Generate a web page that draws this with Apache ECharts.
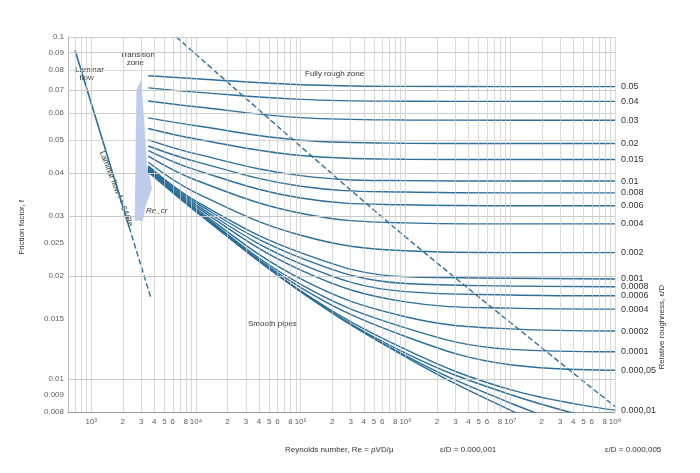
<!DOCTYPE html>
<html><head><meta charset="utf-8">
<script src="https://cdn.jsdelivr.net/npm/echarts@6/dist/echarts.min.js"></script>
<style>html,body{margin:0;padding:0;background:#fff}#c{width:700px;height:473px}</style>
</head><body><div id="c"></div>
<script>
const reValues = [3500, 1e4, 1e5, 1e6, 1e7, 1e8];
const roughLabels = ['0.05','0.04','0.03','0.02','0.015','0.01','0.008','0.006','0.004','0.002','0.001','0.0008','0.0006','0.0004','0.0002','0.0001','0.000,05','0.000,01','','',''];
const f_0050 = [0.077,0.0755,0.0725,0.0717,0.0716,0.0716];
const f_0040 = [0.071,0.0690,0.0657,0.0649,0.0648,0.0648];
const f_0030 = [0.065,0.0625,0.0581,0.0572,0.0571,0.0571];
const f_0020 = [0.058,0.0550,0.0499,0.0489,0.0488,0.0488];
const f_0015 = [0.054,0.0503,0.0450,0.0439,0.0438,0.0438];
const f_0010 = [0.050,0.0455,0.0393,0.0380,0.0379,0.0379];
const f_0008 = [0.048,0.0432,0.0366,0.0352,0.0350,0.0350];
const f_0006 = [0.0465,0.0408,0.0338,0.0323,0.0321,0.0321];
const f_0004 = [0.0448,0.0381,0.0305,0.0286,0.0284,0.0284];
const f_0002 = [0.0430,0.0350,0.0263,0.0237,0.0234,0.0234];
const f_00010 = [0.0420,0.0331,0.0234,0.0199,0.0197,0.0196];
const f_00008 = [0.0418,0.0327,0.0226,0.0190,0.0187,0.0186];
const f_00006 = [0.0416,0.0323,0.0217,0.0180,0.0176,0.0175];
const f_00004 = [0.0414,0.0319,0.0208,0.0168,0.0161,0.0160];
const f_00002 = [0.0412,0.0315,0.0196,0.0152,0.0140,0.0138];
const f_00001 = [0.0410,0.0312,0.0189,0.0141,0.0122,0.0120];
const f_000005 = [0.0408,0.0311,0.0185,0.0133,0.0110,0.0106];
const f_000001 = [0.0406,0.0310,0.0181,0.0122,0.0093,0.0081];
const f_0000005 = [0.0405,0.0309,0.0180,0.0119,0.0090,0.0074];
const f_0000001 = [0.0404,0.0309,0.0180,0.0117,0.0085,0.0066];
const f_smooth = [0.0403,0.0309,0.0180,0.0116,0.0081,0.0060];
const curves = [f_0050,f_0040,f_0030,f_0020,f_0015,f_0010,f_0008,f_0006,f_0004,f_0002,f_00010,f_00008,f_00006,f_00004,f_00002,f_00001,f_000005,f_000001,f_0000005,f_0000001,f_smooth];
const laminarRe = [700, 2300]; const laminarF = [0.0914, 0.0278];
const laminarDashRe = [2300, 3700]; const laminarDashF = [0.0278, 0.0173];
const roughBoundRe = [6500, 8.3e5, 1e8]; const roughBoundF = [0.1, 0.0273, 0.0083];
const transitionPoly = [[2600,0.029],[2700,0.07],[3000,0.075],[3300,0.05],[3400,0.042],[3600,0.040],[3800,0.036],[3300,0.032],[3100,0.029]];
const xMinor = [];
[100,1000,1e4,1e5,1e6,1e7].forEach(d=>{for(let k=1;k<10;k++){const v=d*k; if(v>=600&&v<=1e8) xMinor.push(v);} }); xMinor.push(1e8);
const yGrid = [0.008,0.009,0.01,0.011,0.012,0.013,0.014,0.015,0.016,0.017,0.018,0.019,0.02,0.022,0.024,0.025,0.026,0.028,0.03,0.032,0.034,0.036,0.038,0.04,0.045,0.05,0.055,0.06,0.065,0.07,0.075,0.08,0.085,0.09,0.095,0.1];
const xTickVals = [1e3,2e3,3e3,4e3,5e3,6e3,8e3,1e4,2e4,3e4,4e4,5e4,6e4,8e4,1e5,2e5,3e5,4e5,5e5,6e5,8e5,1e6,2e6,3e6,4e6,5e6,6e6,8e6,1e7,2e7,3e7,4e7,5e7,6e7,8e7,1e8];
const xTickText = ['10³','2','3','4','5','6','8','10⁴','2','3','4','5','6','8','10⁵','2','3','4','5','6','8','10⁶','2','3','4','5','6','8','10⁷','2','3','4','5','6','8','10⁸'];
const yTickVals = [0.1,0.09,0.08,0.07,0.06,0.05,0.04,0.03,0.025,0.02,0.015,0.01,0.009,0.008];
const yTickText = ['0.1','0.09','0.08','0.07','0.06','0.05','0.04','0.03','0.025','0.02','0.015','0.01','0.009','0.008'];

const blue = '#2c6f99';
const series = [];
series.push({type:'line',data:[],silent:true,markLine:{symbol:'none',silent:true,label:{show:false},lineStyle:{color:'#c8c8c8',width:0.7,type:'solid'},
  data:xMinor.map(v=>({xAxis:v})).concat(yGrid.map(v=>({yAxis:v})))}});
curves.forEach((c,i)=>{
  series.push({type:'line',smooth:0.4,showSymbol:false,clip:true,data:reValues.map((r,j)=>[r,c[j]]),
    lineStyle:{color:blue,width:1.4},
    endLabel:{show:!!roughLabels[i],formatter:roughLabels[i],color:'#333',fontSize:9,distance:6}});
});
series.push({type:'line',showSymbol:false,data:laminarRe.map((r,j)=>[r,laminarF[j]]),lineStyle:{color:blue,width:1.6}});
series.push({type:'line',showSymbol:false,data:laminarDashRe.map((r,j)=>[r,laminarDashF[j]]),lineStyle:{color:blue,width:1.4,type:'dashed'}});
series.push({type:'line',smooth:0.3,showSymbol:false,data:roughBoundRe.map((r,j)=>[r,roughBoundF[j]]),lineStyle:{color:blue,width:1.4,type:'dashed'}});
series.push({type:'custom',data:[0],z:1,renderItem:(p,api)=>({type:'polygon',shape:{points:transitionPoly.map(q=>api.coord(q))},style:{fill:'rgba(150,170,225,0.6)'}})});
series.push({type:'scatter',symbolSize:0,clip:false,data:xTickVals.map((v,i)=>({value:[v,0.008],label:{formatter:xTickText[i]}})),
  label:{show:true,position:'bottom',distance:6,fontSize:8,color:'#333'}});
series.push({type:'scatter',symbolSize:0,clip:false,data:yTickVals.map((v,i)=>({value:[600,v],label:{formatter:yTickText[i]}})),
  label:{show:true,position:'left',distance:4,fontSize:8,color:'#333'}});

const chart = echarts.init(document.getElementById('c'));
chart.setOption({
  animation:false, backgroundColor:'#fff',
  grid:{left:68,right:85,top:37,bottom:61},
  xAxis:{type:'log',min:600,max:1e8,axisLabel:{show:false},axisTick:{show:false},splitLine:{show:false},axisLine:{lineStyle:{color:'#999'}}},
  yAxis:{type:'log',min:0.008,max:0.1,axisLabel:{show:false},axisTick:{show:false},splitLine:{show:false},axisLine:{show:true,lineStyle:{color:'#999'}}},
  series,
  graphic:[
    {type:'text',left:18,top:200,rotation:Math.PI/2,style:{text:'Friction factor, f',fontSize:8,fill:'#333'}},
    {type:'text',left:658,top:285,rotation:Math.PI/2,style:{text:'Relative roughness, ε/D',fontSize:8,fill:'#333'}},
    {type:'text',left:285,top:446,style:{text:'Reynolds number, Re = ρVD/μ',fontSize:8,fill:'#333'}},
    {type:'text',left:440,top:446,style:{text:'ε/D = 0.000,001',fontSize:8,fill:'#333'}},
    {type:'text',left:605,top:446,style:{text:'ε/D = 0.000,005',fontSize:8,fill:'#333'}},
    {type:'text',left:75,top:66,style:{text:'Laminar\n  flow',fontSize:8,fill:'#333',backgroundColor:'#fff'}},
    {type:'text',left:120,top:51,style:{text:'Transition\n   zone',fontSize:8,fill:'#333',backgroundColor:'#fff'}},
    {type:'text',left:305,top:70,style:{text:'Fully rough zone',fontSize:8,fill:'#333',backgroundColor:'#fff'}},
    {type:'text',left:248,top:320,style:{text:'Smooth pipes',fontSize:8,fill:'#333',backgroundColor:'#fff'}},
    {type:'text',left:146,top:207,style:{text:'Re_cr',fontSize:8,fill:'#333',fontStyle:'italic'}},
    {type:'text',left:98,top:150,rotation:-1.2,style:{text:'Laminar flow f = 64/Re',fontSize:8,fill:'#333',backgroundColor:'#fff'}}
  ]
});
</script></body></html>
